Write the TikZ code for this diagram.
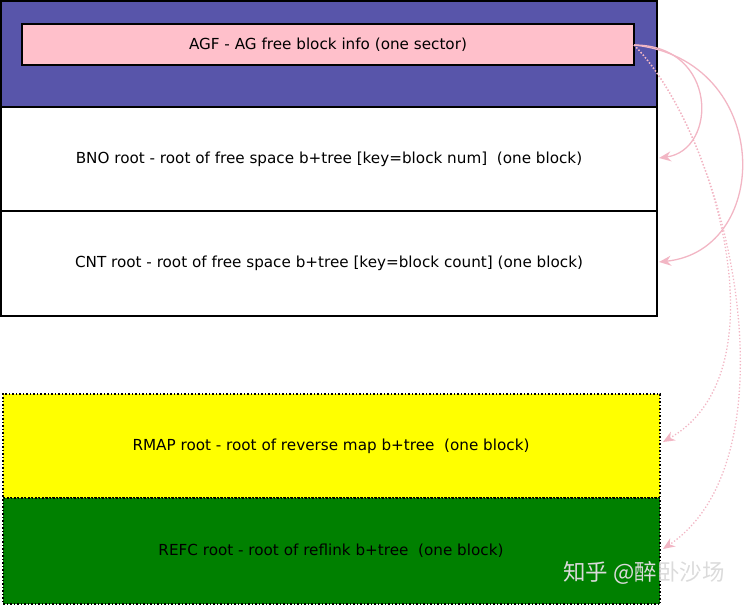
\documentclass[tikz,border=0pt]{standalone}
\usepackage{fontspec}
\setmainfont{DejaVu Sans}
\newfontfamily\cjkfont{Noto Sans CJK SC}
\usetikzlibrary{arrows.meta}
\definecolor{agfblue}{HTML}{5855AA}
\definecolor{agfpink}{HTML}{FFC0CB}
\definecolor{arrowpink}{HTML}{F2B6C4}
\definecolor{rmapyellow}{HTML}{FFFF00}
\definecolor{refcgreen}{HTML}{008000}
\tikzset{
  block/.style={draw=black, line width=1.5pt, inner sep=0pt, font=\fontsize{15.2}{18}\selectfont},
  dotblock/.style={draw=black, line width=1.5pt, dotted, inner sep=0pt, font=\fontsize{15.2}{18}\selectfont},
  solidarrow/.style={draw=arrowpink, line width=1.3pt, -{Stealth[length=12pt,width=10pt]}},
  dotarrow/.style={draw=arrowpink, line width=1.3pt, dotted, -{Stealth[length=12pt,width=10pt,line width=0pt]}},
}
\begin{document}
\begin{tikzpicture}[x=1pt,y=-1pt]
\useasboundingbox (0,0) rectangle (745,607);
\node[block, fill=agfblue, minimum width=656pt, minimum height=106pt] (agfbox) at (329,54) {};
\node[block, fill=agfpink, minimum width=612pt, minimum height=41pt] (agf) at (328,44.5) {AGF - AG free block info (one sector)};
\node[block, fill=white, minimum width=656pt, minimum height=104pt] (bno) at (329,159) {BNO root - root of free space b+tree [key=block num]\ \ (one block)};
\node[block, fill=white, minimum width=656pt, minimum height=105pt] (cnt) at (329,263.5) {CNT root - root of free space b+tree [key=block count] (one block)};
\node[dotblock, fill=rmapyellow, minimum width=657pt, minimum height=104pt] (rmap) at (331.5,446) {};
\node[dotblock, fill=refcgreen, minimum width=657pt, minimum height=106pt] (refc) at (331.5,551) {};
\node[font=\fontsize{15.2}{18}\selectfont, inner sep=0pt] (rmaptext) at (331,446) {RMAP root - root of reverse map b+tree\ \ (one block)};
\node[font=\fontsize{15.2}{18}\selectfont, inner sep=0pt] (refctext) at (331,551) {REFC root - root of reflink b+tree\ \ (one block)};
\coordinate (s) at (634,45);
\coordinate (bnoend) at (659,158);
\coordinate (cntend) at (659,262);
\coordinate (rmapend) at (663,442);
\coordinate (refcend) at (663,549);
\draw[solidarrow] (s) .. controls (718,45) and (718,150) .. (bnoend);
\draw[solidarrow] (s) .. controls (773,60) and (773,250) .. (cntend);
\draw[dotarrow] (s) .. controls (710,120) and (788,370) .. (rmapend);
\draw[dotarrow] (s) .. controls (735,150) and (795,460) .. (refcend);
\node[text=white!72!gray, font=\cjkfont\fontsize{22.5}{26}\selectfont, anchor=center] (wm) at (644,573) {知乎 @醉卧沙场};
\end{tikzpicture}
\end{document}
